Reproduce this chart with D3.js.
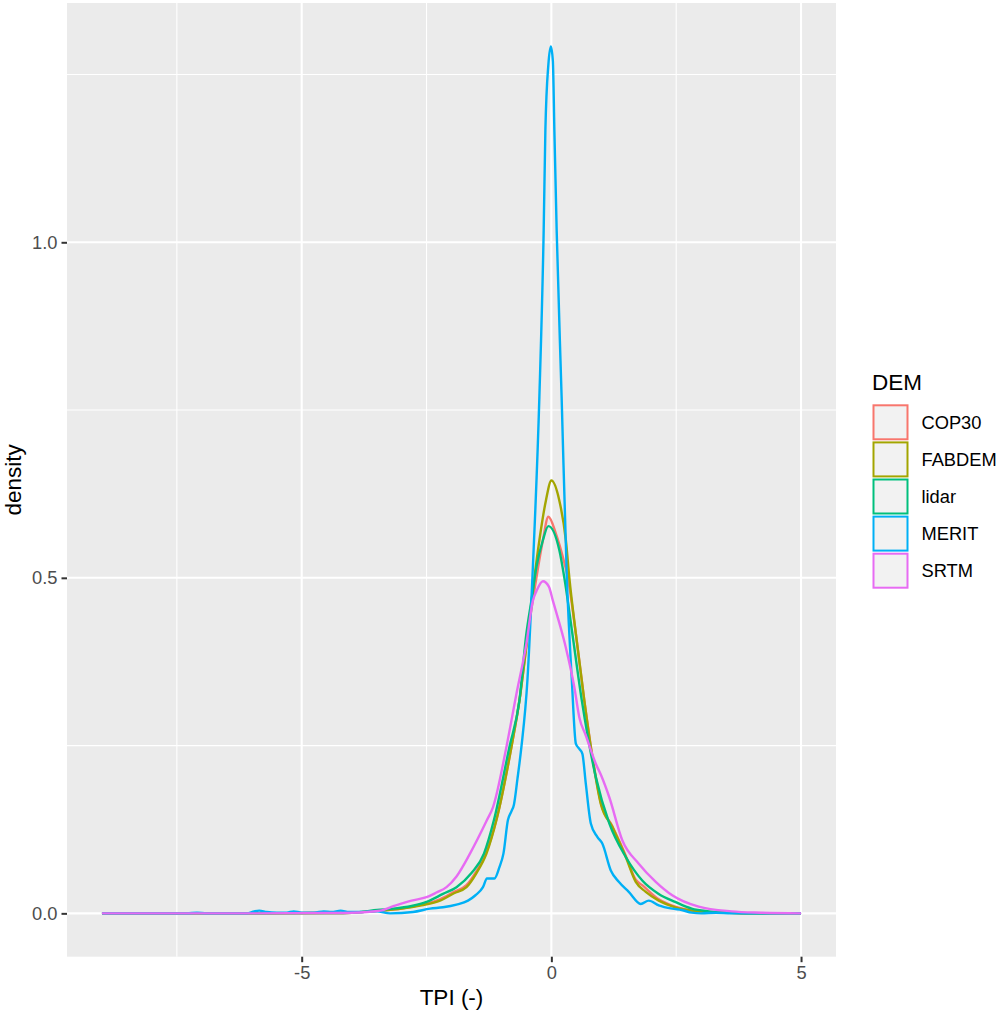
<!DOCTYPE html>
<html><head><meta charset="utf-8">
<script src="https://cdn.jsdelivr.net/npm/d3@7"></script>
<style>body{margin:0;background:#fff}text{font-family:"Liberation Sans",Arial,sans-serif}</style>
</head><body><svg id="c" width="1000" height="1013"></svg>
<script>
// ---- data ----
const demNames = ["COP30","FABDEM","lidar","MERIT","SRTM"];
const demColors = ["#F8766D","#A3A500","#00BF7D","#00B0F6","#E76BF3"];
const xTicks = [-5, 0, 5];
const yTicks = [0, 0.5, 1.0];
const yTickLabels = ["0.0","0.5","1.0"];

const cop30X = [-9,-6,-4.5,-4,-3.43,-3,-2.6,-2.23,-1.95,-1.7,-1.5,-1.3,-1.1,-0.8,-0.64,-0.47,-0.3,-0.17,-0.06,0.09,0.23,0.33,0.49,0.66,0.82,0.99,1.22,1.49,1.69,1.82,2.15,2.48,2.95,3.5,4,5];
const cop30Y = [0,0,0.0005,0.001,0.004,0.007,0.013,0.021,0.032,0.042,0.063,0.092,0.14,0.248,0.317,0.417,0.5,0.556,0.591,0.566,0.531,0.5,0.417,0.317,0.235,0.165,0.13,0.086,0.05,0.042,0.021,0.01,0.003,0.001,0,0];

const fabdemX = [-9,-6,-4.5,-4,-3.43,-3,-2.6,-2.23,-1.95,-1.7,-1.5,-1.3,-1.1,-0.8,-0.64,-0.47,-0.34,-0.24,-0.11,0,0.16,0.29,0.36,0.49,0.66,0.82,0.99,1.22,1.49,1.69,1.89,2.15,2.48,2.95,3.5,4,5];
const fabdemY = [0,0,0.0005,0.001,0.004,0.007,0.012,0.019,0.03,0.039,0.06,0.089,0.139,0.248,0.317,0.417,0.5,0.556,0.615,0.645,0.615,0.556,0.5,0.417,0.317,0.233,0.163,0.129,0.084,0.047,0.032,0.019,0.009,0.003,0.001,0,0];

const lidarX = [-9,-6,-4.5,-4,-3.82,-3.49,-3.16,-2.8,-2.5,-2.17,-1.9,-1.6,-1.35,-1.15,-0.84,-0.64,-0.5,-0.4,-0.3,-0.17,-0.06,0.16,0.26,0.42,0.61,0.89,1.16,1.49,1.82,2.15,2.48,2.81,3.15,3.61,4.2,5];
const lidarY = [0,0,0.0005,0.001,0.002,0.005,0.007,0.011,0.017,0.029,0.039,0.06,0.089,0.139,0.248,0.317,0.417,0.466,0.516,0.556,0.577,0.541,0.5,0.417,0.317,0.203,0.134,0.084,0.049,0.029,0.017,0.007,0.003,0.001,0,0];

const meritX = [-9,-7.3,-7.1,-6.9,-6.1,-5.95,-5.85,-5.7,-5.5,-5.3,-5.16,-5.0,-4.75,-4.56,-4.4,-4.22,-4.05,-3.8,-3.5,-3.23,-2.77,-2.43,-2.17,-1.9,-1.67,-1.52,-1.37,-1.29,-1.14,-1.04,-0.96,-0.87,-0.8,-0.75,-0.68,-0.6,-0.48,-0.38,-0.24,-0.154,-0.12,-0.06,-0.01,0.03,0.06,0.106,0.205,0.31,0.41,0.49,0.56,0.62,0.69,0.79,0.92,1.02,1.19,1.35,1.55,1.79,1.95,2.15,2.42,2.61,2.81,3.0,3.3,3.6,4,5];
const meritY = [0,0,0.001,0,0,0.003,0.004,0.002,0.001,0.001,0.003,0.001,0.001,0.003,0.002,0.004,0.002,0.002,0.003,0,0.002,0.007,0.009,0.013,0.019,0.027,0.039,0.052,0.052,0.069,0.089,0.139,0.152,0.162,0.2,0.248,0.347,0.5,0.77,1.018,1.167,1.265,1.292,1.27,1.167,1.018,0.77,0.5,0.347,0.253,0.245,0.238,0.193,0.134,0.114,0.104,0.064,0.047,0.032,0.014,0.019,0.012,0.007,0.005,0.001,0,0.001,0,0,0];

const srtmX = [-9,-6,-4.5,-4,-3.7,-3.43,-3.15,-2.8,-2.5,-2.3,-2.1,-1.9,-1.63,-1.29,-1.17,-0.9,-0.7,-0.5,-0.37,-0.3,-0.17,-0.05,0.03,0.27,0.46,0.56,0.69,0.89,1.0,1.16,1.42,1.75,2.09,2.42,2.95,3.61,4.2,5];
const srtmY = [0,0,0.0005,0.001,0.002,0.004,0.011,0.019,0.024,0.031,0.039,0.055,0.089,0.139,0.158,0.248,0.327,0.402,0.466,0.48,0.495,0.487,0.466,0.402,0.337,0.292,0.265,0.223,0.205,0.173,0.109,0.074,0.047,0.027,0.01,0.003,0.001,0];

const seriesX = [cop30X, fabdemX, lidarX, meritX, srtmX];
const seriesY = [cop30Y, fabdemY, lidarY, meritY, srtmY];

// ---- layout ----
const svg = d3.select("#c");
const P = {l:67, r:836, t:3, b:956.7};
const x = d3.scaleLinear().domain([-9.7, 5.7]).range([P.l, P.r]);
const y = d3.scaleLinear().domain([-0.0646, 1.3566]).range([P.b, P.t]);

svg.append("rect").attr("x",P.l).attr("y",P.t).attr("width",P.r-P.l).attr("height",P.b-P.t).attr("fill","#EBEBEB");

const g = svg.append("g");
// minor grid
[-7.5,-2.5,2.5].forEach(v=>g.append("line").attr("x1",x(v)).attr("x2",x(v)).attr("y1",P.t).attr("y2",P.b).attr("stroke","#fff").attr("stroke-width",1.1));
[0.25,0.75,1.25].forEach(v=>g.append("line").attr("y1",y(v)).attr("y2",y(v)).attr("x1",P.l).attr("x2",P.r).attr("stroke","#fff").attr("stroke-width",1.1));
// major grid
xTicks.forEach(v=>g.append("line").attr("x1",x(v)).attr("x2",x(v)).attr("y1",P.t).attr("y2",P.b).attr("stroke","#fff").attr("stroke-width",2.1));
yTicks.forEach(v=>g.append("line").attr("y1",y(v)).attr("y2",y(v)).attr("x1",P.l).attr("x2",P.r).attr("stroke","#fff").attr("stroke-width",2.1));

// curves
const line = d3.line().x(d=>x(d[0])).y(d=>y(d[1])).curve(d3.curveMonotoneX);
demNames.forEach((n,i)=>{
  const pts = seriesX[i].map((v,j)=>[v, seriesY[i][j]]);
  svg.append("path").datum(pts).attr("d",line).attr("fill","none")
    .attr("stroke",demColors[i]).attr("stroke-width",2.4).attr("stroke-linejoin","round");
});

// axes
const xAxis = svg.append("g").attr("transform",`translate(0,${P.b})`)
  .call(d3.axisBottom(x).tickValues(xTicks).tickSize(5.5).tickPadding(4).tickFormat(d3.format("d")));
const yAxis = svg.append("g").attr("transform",`translate(${P.l},0)`)
  .call(d3.axisLeft(y).tickValues(yTicks).tickSize(5.5).tickPadding(4).tickFormat((d,i)=>yTickLabels[i]));
[xAxis,yAxis].forEach(a=>{
  a.select(".domain").remove();
  a.selectAll(".tick line").attr("stroke","#333").attr("stroke-width",2);
  a.selectAll(".tick text").attr("fill","#4D4D4D").style("font-size","18.3px").style("font-family","Liberation Sans, Arial, sans-serif");
});
xAxis.selectAll(".tick text").text(d=>d<0?"-"+Math.abs(d):d);

// axis titles
svg.append("text").attr("x",(P.l+P.r)/2).attr("y",1005).attr("text-anchor","middle")
  .style("font-size","22.5px").text("TPI (-)");
svg.append("text").attr("transform",`translate(21,${(P.t+P.b)/2}) rotate(-90)`).attr("text-anchor","middle")
  .style("font-size","22.5px").text("density");

// legend
const lg = svg.append("g");
lg.append("text").attr("x",872).attr("y",390).style("font-size","22.5px").text("DEM");
demNames.forEach((n,i)=>{
  const ky = 405.3 + i*37.1;
  lg.append("rect").attr("x",873.5).attr("y",ky).attr("width",34).attr("height",34)
    .attr("fill","#F2F2F2").attr("stroke",demColors[i]).attr("stroke-width",2);
  lg.append("text").attr("x",921.5).attr("y",ky+17+6.4).style("font-size","18.3px").text(n);
});
</script></body></html>
